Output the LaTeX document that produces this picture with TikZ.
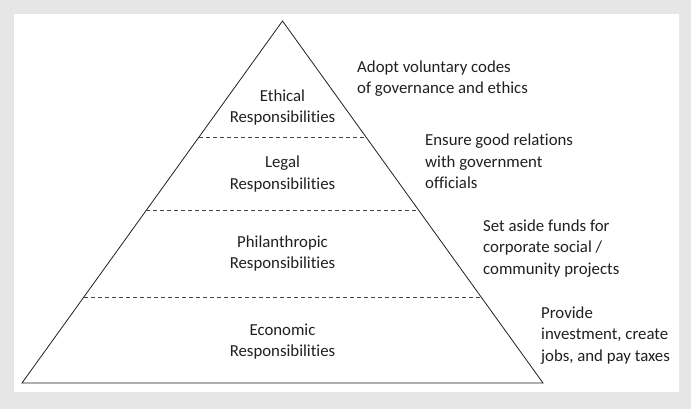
\documentclass[tikz,border=0pt]{standalone}
\usepackage{fontspec}
\setmainfont{Carlito}[Ligatures=NoCommon]
\usetikzlibrary{calc}
\definecolor{framegray}{HTML}{E6E6E6}
\definecolor{ink}{HTML}{231F20}

\begin{document}
\begin{tikzpicture}[x=1pt, y=-1pt, every node/.style={font=\fontsize{16.8}{21.5}\selectfont, text=ink, inner sep=0pt}]
\fill[framegray] (0,0) rectangle (691,409);
\fill[white] (14,14) rectangle (679,392);
\coordinate (top) at (282.5,21); \coordinate (bl) at (22,383); \coordinate (br) at (543,383);
\draw[ink, line width=0.8pt] (top) -- (bl) -- (br) -- cycle;
\foreach \f in {0.3204,0.5221,0.7624}
	\draw[ink!85, line width=0.6pt, dash pattern=on 4pt off 3pt] ($(top)!\f!(bl)$) -- ($(top)!\f!(br)$);
\foreach \y/\n/\t in {107.5/et/Ethical, 174/le/Legal, 253.5/ph/Philanthropic, 341.5/ec/Economic}
	\node[align=center] (\n) at (282.5,\y) {\t\\Responsibilities};
\node[anchor=west, align=left] (etnote) at (357,78.5) {Adopt voluntary codes\\of governance and ethics};
\node[anchor=west, align=left] (lenote) at (425,161.5) {Ensure good relations\\with government\\officials};
\node[anchor=west, align=left] (phnote) at (483,248.5) {Set aside funds for\\corporate social /\\community projects};
\node[anchor=west, align=left] (ecnote) at (541,335.5) {Provide\\investment, create\\jobs, and pay taxes};
\end{tikzpicture}
\end{document}
